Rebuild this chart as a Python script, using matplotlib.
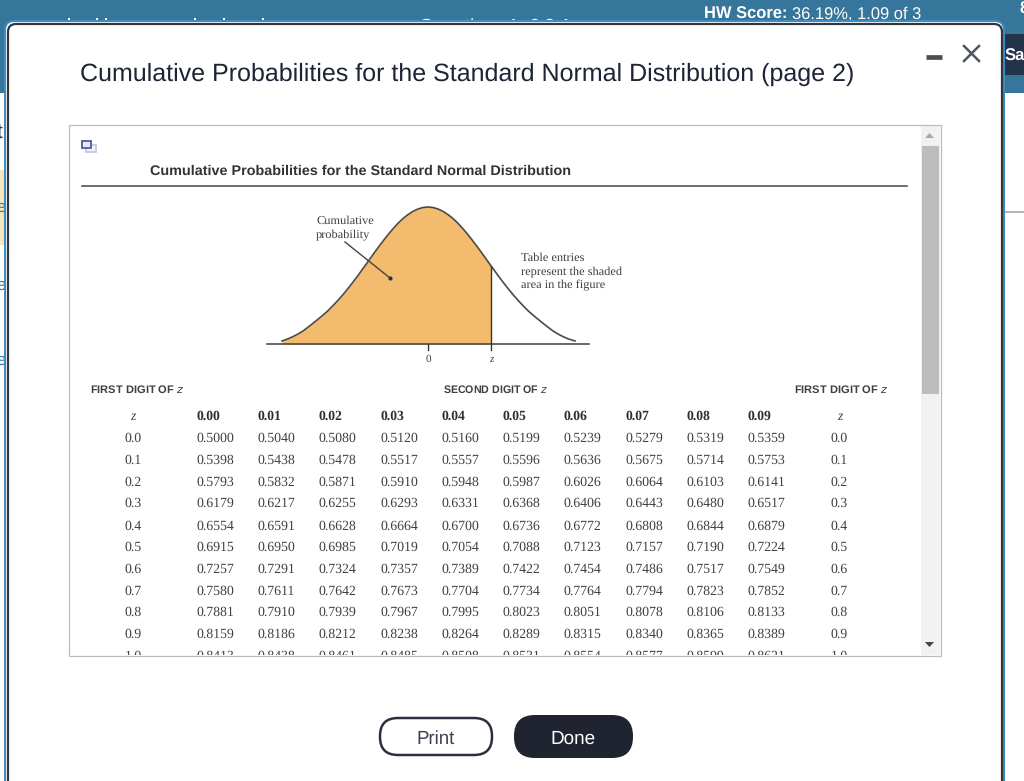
#!/usr/bin/env python3
"""
Screenshot of the standard normal table dialog, drawn in pixel coordinates
"""

import matplotlib
matplotlib.use('Agg')
import matplotlib.pyplot as plt
from matplotlib.patches import FancyBboxPatch, Rectangle, Polygon

plt.rcParams['text.hinting'] = 'no_hinting'

SANS = 'Liberation Sans'
SERIF = 'Liberation Serif'

# ==============================================================================
# DATA
# ==============================================================================

second_digit = ['0.00', '0.01', '0.02', '0.03', '0.04', '0.05', '0.06', '0.07', '0.08', '0.09']
first_digit = ['0.0', '0.1', '0.2', '0.3', '0.4', '0.5', '0.6', '0.7', '0.8', '0.9', '1.0']

row_00 = ['0.5000', '0.5040', '0.5080', '0.5120', '0.5160', '0.5199', '0.5239', '0.5279', '0.5319', '0.5359']
row_01 = ['0.5398', '0.5438', '0.5478', '0.5517', '0.5557', '0.5596', '0.5636', '0.5675', '0.5714', '0.5753']
row_02 = ['0.5793', '0.5832', '0.5871', '0.5910', '0.5948', '0.5987', '0.6026', '0.6064', '0.6103', '0.6141']
row_03 = ['0.6179', '0.6217', '0.6255', '0.6293', '0.6331', '0.6368', '0.6406', '0.6443', '0.6480', '0.6517']
row_04 = ['0.6554', '0.6591', '0.6628', '0.6664', '0.6700', '0.6736', '0.6772', '0.6808', '0.6844', '0.6879']
row_05 = ['0.6915', '0.6950', '0.6985', '0.7019', '0.7054', '0.7088', '0.7123', '0.7157', '0.7190', '0.7224']
row_06 = ['0.7257', '0.7291', '0.7324', '0.7357', '0.7389', '0.7422', '0.7454', '0.7486', '0.7517', '0.7549']
row_07 = ['0.7580', '0.7611', '0.7642', '0.7673', '0.7704', '0.7734', '0.7764', '0.7794', '0.7823', '0.7852']
row_08 = ['0.7881', '0.7910', '0.7939', '0.7967', '0.7995', '0.8023', '0.8051', '0.8078', '0.8106', '0.8133']
row_09 = ['0.8159', '0.8186', '0.8212', '0.8238', '0.8264', '0.8289', '0.8315', '0.8340', '0.8365', '0.8389']
row_10 = ['0.8413', '0.8438', '0.8461', '0.8485', '0.8508', '0.8531', '0.8554', '0.8577', '0.8599', '0.8621']
rows = [row_00, row_01, row_02, row_03, row_04, row_05, row_06, row_07, row_08, row_09, row_10]

# bell curve (pixels)
curve_x = [282, 288, 293, 298, 303, 308, 313, 318, 323, 328, 333, 338, 343, 348, 353, 358, 363,
           368, 373, 378, 383, 388, 393, 398, 403, 408, 413, 418, 423, 428,
           433, 438, 443, 448, 453, 458, 463, 468, 473, 478, 483, 488, 491, 493, 498, 503, 508,
           513, 518, 523, 528, 533, 538, 543, 548, 553, 558, 563, 568, 575]
curve_y = [341, 338.8, 336.6, 334, 331, 327.2, 323.3, 319.2, 315.1, 310.7, 305.6, 300.3, 294.6,
           288.5, 282.1, 275.5, 268.5, 261.6, 254.6, 247.7, 241.1, 234.7, 228.8, 223.3, 218.5,
           214.6, 211.3, 209, 207.5, 207,
           207.5, 209, 211.3, 214.6, 218.5, 223.3, 228.8, 234.7, 241.1, 247.7, 254.6, 261.6, 266,
           268.5, 275.5, 282.1, 288.5, 294.6, 300.3, 305.6, 310.7, 315.1, 319.2, 323.3, 327.2,
           331, 334, 336.6, 338.8, 341]

# tops of the words that stick out above the dialog (x in pixels)
hidden_marks_x = [69, 97, 106, 195, 224, 263]

# ==============================================================================
# HELPERS
# ==============================================================================

fig = plt.figure(figsize=(10.24, 7.81), dpi=100)
ax = fig.add_axes([0, 0, 1, 1])
ax.set_xlim(0, 1024)
ax.set_ylim(781, 0)
ax.axis('off')


def rect(x0, y0, x1, y1, color, z=1, **kw):
    p = Rectangle((x0, y0), x1 - x0, y1 - y0, facecolor=color, edgecolor='none', zorder=z, **kw)
    ax.add_patch(p)
    return p


def rbox(x0, y0, x1, y1, r, fc, ec='none', lw=0, z=2):
    p = FancyBboxPatch((x0 + r, y0 + r), x1 - x0 - 2 * r, y1 - y0 - 2 * r,
                       boxstyle=f'round,pad={r},rounding_size={r}',
                       facecolor=fc, edgecolor=ec, linewidth=lw, zorder=z)
    ax.add_patch(p)
    return p


def txt(x, y, s, size, color='#404040', family=SERIF, ha='left', va='center', z=5, **kw):
    return ax.text(x, y, s, fontsize=size, color=color, family=family, ha=ha, va=va, zorder=z, **kw)


# ==============================================================================
# PAGE BEHIND THE DIALOG
# ==============================================================================

rect(0, 0, 1024, 93, '#36769a')
rect(1003, 34, 1024, 75, '#22334a')
rect(0, 170, 8, 245, '#f6e7bb')
rect(1004, 211, 1024, 212.5, '#b5b5b5')
txt(1005, 56, 'Sa', 12, color='white', family=SANS, weight='bold')
txt(704, 14.5, 'HW Score:', 11.9, color='white', family=SANS, weight='bold', z=1.5)
txt(792, 14.5, '36.19%, 1.09 of 3', 11.9, color='white', family=SANS, z=1.5)
txt(1019, 9, '8', 12, color='white', family=SANS, weight='bold', z=1.5)
txt(-3, 132, 't', 15, color='#333333', family=SANS, z=1.5)
for y in [207, 285, 360]:
    txt(-4, y, 'e', 12, color='#3a7ca5', family=SANS, z=1.5)

# these only peek out above the frame
txt(418, 32, 'Question', 14, color='white', family=SANS, va='baseline', z=1.5)
txt(508, 32, '1,', 14, color='white', family=SANS, va='baseline', z=1.5)
txt(528, 32, '6.3.1', 14, color='white', family=SANS, va='baseline', z=1.5)
for x in hidden_marks_x:
    rect(x - 1, 18, x + 1, 22, 'white', z=1.5)

# dialog frame
rbox(5, 21, 1004, 800, 9, 'white', ec='#3d8cc4', lw=1.5, z=2)
rbox(8, 24, 1002, 800, 8, 'white', ec='#33373c', lw=1.6, z=3)

txt(80, 74, 'Cumulative Probabilities for the Standard Normal Distribution (page 2)',
    18, color='#1c2436', family=SANS)
ax.plot([926, 942], [56.5, 56.5], color='#4b4f54', lw=3.4, solid_capstyle='butt', zorder=5)
ax.plot([964, 979], [46, 61], color='#4b5563', lw=1.8, zorder=5)
ax.plot([964, 979], [61, 46], color='#4b5563', lw=1.8, zorder=5)

# ==============================================================================
# SCROLL PANEL
# ==============================================================================

rect(69, 124, 941, 656, 'white', z=3.5)
rect(921, 125, 940, 655, '#f1f1f1', z=4)
rect(921.5, 146, 938.5, 394, '#bdbdbd', z=4.2)
ax.add_patch(Polygon([(925, 138), (934, 138), (929.5, 133)], facecolor='#a9a9a9', zorder=4.3))
ax.add_patch(Polygon([(925, 642), (934, 642), (929.5, 647)], facecolor='#444444', zorder=4.3))
panel = Rectangle((69, 124.5), 871.5, 531, facecolor='none', edgecolor='#bcbcbc', linewidth=0.9, zorder=6)
ax.add_patch(panel)

# popup icon
ax.add_patch(Rectangle((85.5, 145), 10, 7, facecolor='#f4f4fa', edgecolor='#c2c4de', linewidth=1.2, zorder=5))
ax.add_patch(Rectangle((82, 141), 9, 7, facecolor='#e8e9f4', edgecolor='#53599f', linewidth=1.3, zorder=5.1))

txt(150.5, 171, 'Cumulative Probabilities for the Standard Normal Distribution', 10.36,
    color='#333333', family=SANS, weight='bold')
ax.plot([82, 907], [186, 186], color='#555555', lw=1.2, zorder=5)

# ==============================================================================
# FIGURE
# ==============================================================================

ax.fill_between(curve_x, curve_y, 344, where=[x <= 491 for x in curve_x],
                color='#f2bb6e', linewidth=0, zorder=5)
ax.plot(curve_x, curve_y, color='#4d4a45', lw=1.2, zorder=5.2)
ax.plot([267, 589], [344, 344], color='#3f3f3f', lw=1.1, zorder=5.3)
ax.plot([491, 491], [266, 350], color='#333333', lw=1.0, zorder=5.3)
ax.plot([428, 428], [344, 350], color='#333333', lw=1.0, zorder=5.3)
ax.plot([345, 390], [242, 278], color='#444444', lw=1.0, zorder=5.4)
ax.plot([390], [278], marker='o', ms=2, color='#333333', zorder=5.4)

txt(316, 220.5, 'Cumulative', 8.9)
txt(316, 235, 'probability', 8.9)
txt(521, 258, 'Table entries', 8.9)
txt(521, 271.5, 'represent the shaded', 8.9)
txt(521, 285.5, 'area in the figure', 8.9)
txt(428, 359.5, '0', 8, ha='center')
txt(491, 359.5, 'z', 8, ha='center', style='italic')

# ==============================================================================
# TABLE
# ==============================================================================

col_x = [196, 257, 318, 380, 441, 502, 563, 625, 686, 747]
row_y = [438, 460, 482, 503.5, 526, 547, 569, 591, 612, 634, 656]
clip = Rectangle((69, 124), 852, 530.5, transform=ax.transData)

txt(90, 389, 'FIRST DIGIT OF $\\mathit{z}$', 8.0, family=SANS, weight='bold')
txt(443, 389, 'SECOND DIGIT OF $\\mathit{z}$', 7.7, family=SANS, weight='bold')
txt(794, 389, 'FIRST DIGIT OF $\\mathit{z}$', 8.0, family=SANS, weight='bold')

txt(133, 417, 'z', 9.8, ha='center', style='italic')
txt(840, 417, 'z', 9.8, ha='center', style='italic')
for x, label in zip(col_x, second_digit):
    txt(x, 416.5, label, 9.8, weight='bold', color='#2e2e2e')

for y, label, values in zip(row_y, first_digit, rows):
    cells = [txt(133, y, label, 9.9, ha='center'), txt(839, y, label, 9.9, ha='center')]
    for x, value in zip(col_x, values):
        cells.append(txt(x, y, value, 9.9))
    # last row runs under the bottom of the scroll panel
    for t in cells:
        t.set_clip_on(True)
        t.set_clip_path(clip)

# ==============================================================================
# BUTTONS
# ==============================================================================

rbox(380, 718, 492, 755, 18, 'white', ec='#2a3040', lw=1.8, z=4)
txt(436, 738.5, 'Print', 13.4, color='#3b4150', family=SANS, ha='center')
rbox(514, 715, 633, 758, 21, '#1f2430', z=4)
txt(573.5, 738.5, 'Done', 13.6, color='white', family=SANS, ha='center')

fig.savefig('out.png', dpi=100)
